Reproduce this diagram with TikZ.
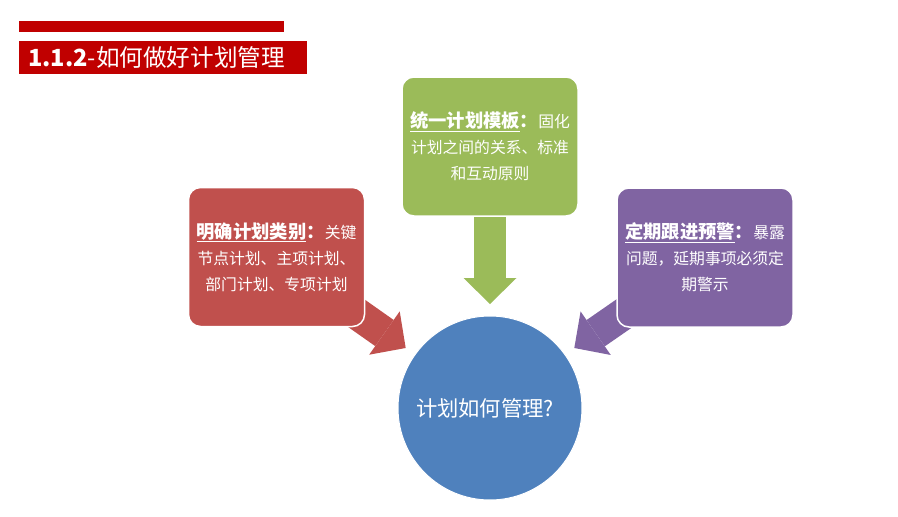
\documentclass[tikz,border=0pt]{standalone}
\usepackage{fontspec}
\setmainfont{Noto Sans CJK SC}
\usetikzlibrary{arrows.meta,backgrounds}

\definecolor{titlered}{HTML}{C00000}
\definecolor{sortred}{HTML}{C0504D}
\definecolor{plangreen}{HTML}{9BBB59}
\definecolor{warnpurple}{HTML}{8064A2}
\definecolor{askblue}{HTML}{4F81BD}

\newcommand{\boxhead}[1]{\underline{\textbf{\fontsize{18.3}{26}\selectfont #1}}\textbf{\fontsize{18.3}{26}\selectfont ：}}

\begin{document}
\begin{tikzpicture}[x=1pt,y=1pt,
  box/.style={rounded corners=12pt, draw=white, line width=1.5pt,
    minimum width=176pt, minimum height=139pt, inner sep=0pt,
    align=center, text=white, font=\fontsize{15.8}{26}\selectfont},
  bigarrow/.style={line width=32pt,
    -{Triangle[length=26pt,width=53pt,line width=0pt]}}]
  \useasboundingbox (0,0) rectangle (898,-517);
  % title
  \fill [titlered] (19,-21) rectangle (284,-32);
  \fill [titlered] (19,-41) rectangle (307,-74);
  \node [anchor=west, text=white, inner sep=0pt, font=\fontsize{23.6}{24}\selectfont]
    (title) at (28,-57) {\textbf{1.1.2}-如何做好计划管理};
  % centre and the three boxes
  \node [circle, fill=askblue, draw=white, line width=1pt, minimum size=184pt,
    text=white, font=\fontsize{21.3}{24}\selectfont] (ask) at (490,-408) {计划如何管理?\hspace*{10pt}};
  \node [box, fill=sortred] (sort) at (276.5,-257)
    {\boxhead{明确计划类别}关键\\节点计划、主项计划、\\部门计划、专项计划};
  \node [box, fill=plangreen] (plan) at (490,-146.5)
    {\boxhead{统一计划模板}固化\\计划之间的关系、标准\\和互动原则};
  \node [box, fill=warnpurple] (warn) at (705,-257.5)
    {\boxhead{定期跟进预警}暴露\\问题，延期事项必须定\\期警示};
  \coordinate (sorttip) at (405.7,-348);
  \coordinate (plantip) at (490,-304);
  \coordinate (warntip) at (574.3,-348);
  % block arrows behind the boxes
  \begin{scope}[on background layer]
    \draw [bigarrow, sortred] (sort.center) -- (sorttip);
    \draw [bigarrow, plangreen] (plan.center) -- (plantip);
    \draw [bigarrow, warnpurple] (warn.center) -- (warntip);
  \end{scope}
\end{tikzpicture}
\end{document}
